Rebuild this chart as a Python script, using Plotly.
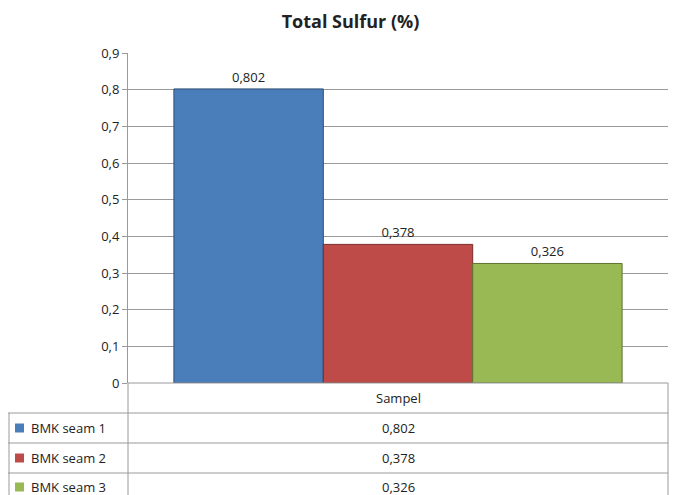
import plotly.graph_objects as go

category = ["Sampel"]
series_names = ["BMK seam 1", "BMK seam 2", "BMK seam 3"]
series_values = [0.802, 0.378, 0.326]
colors = ["#4a7ebb", "#be4b48", "#98b954"]
line_colors = ["#2c4d75", "#772c2a", "#5f7530"]
y_ticks = [0, 0.1, 0.2, 0.3, 0.4, 0.5, 0.6, 0.7, 0.8, 0.9]

FONT = "Open Sans"
fig = go.Figure()
for name, v, c, lc in zip(series_names, series_values, colors, line_colors):
    fig.add_trace(go.Bar(
        x=category, y=[v], name=name, marker=dict(color=c, line=dict(color=lc, width=1)),
        text=[f"{v:.3f}".replace(".", ",")], textposition="outside",
        textfont=dict(size=13, color="#222"), cliponaxis=False, showlegend=False))

fig.update_layout(
    width=685, height=495, margin=dict(l=120, r=25, t=45, b=120, autoexpand=False),
    paper_bgcolor="white", plot_bgcolor="white",
    barmode="group", bargap=0.17, bargroupgap=0,
    font=dict(family=FONT, size=13, color="#222"),
    title=dict(text="<b>Total Sulfur (%)</b>", x=0.5, xanchor="center", y=0.985,
               yanchor="top", font=dict(size=18, family=FONT)),
    xaxis=dict(showticklabels=False, showline=False, showgrid=False, automargin=False),
    yaxis=dict(range=[0, 0.9], tickvals=y_ticks, automargin=False,
               ticktext=[f"{t:.1f}".replace(".", ",") if t else "0" for t in y_ticks],
               showgrid=True, gridcolor="#9a9a9a", gridwidth=1, showline=True,
               linecolor="#9a9a9a", ticks="outside", ticklen=5, tickcolor="#9a9a9a",
               tickfont=dict(size=13), zeroline=False),
)

px_y = lambda py: (375 - py) / 330
px_x = lambda px: (px - 120) / 540
lc = "#9a9a9a"
shapes = []
for py in [375, 405, 435, 465, 493]:
    x0 = 120 if py == 375 else 0
    shapes.append(dict(type="line", xref="paper", yref="paper", x0=px_x(x0), x1=px_x(660),
                       y0=px_y(py), y1=px_y(py), line=dict(color=lc, width=1)))
shapes.append(dict(type="line", xref="paper", yref="paper", x0=0, x1=0, y0=px_y(375), y1=px_y(493), line=dict(color=lc, width=1)))
shapes.append(dict(type="line", xref="paper", yref="paper", x0=1, x1=1, y0=px_y(375), y1=px_y(493), line=dict(color=lc, width=1)))
shapes.append(dict(type="line", xref="paper", yref="paper", x0=px_x(1), x1=px_x(1), y0=px_y(405), y1=px_y(493), line=dict(color=lc, width=1)))
ann = [dict(text=category[0], xref="paper", yref="paper", x=0.5, y=px_y(390), yanchor="middle",
            showarrow=False, font=dict(size=13))]
for i, (name, v, c) in enumerate(zip(series_names, series_values, colors)):
    cy = 420 + 30 * i - (1 if i == 2 else 0)
    shapes.append(dict(type="rect", xref="paper", yref="paper", x0=px_x(7), x1=px_x(16),
                       y0=px_y(cy - 4.5), y1=px_y(cy + 4.5), fillcolor=c, line=dict(width=0)))
    ann.append(dict(text=name, xref="paper", yref="paper", x=px_x(21), y=px_y(cy), xanchor="left",
                    yanchor="middle", showarrow=False, font=dict(size=13)))
    ann.append(dict(text=f"{v:.3f}".replace(".", ","), xref="paper", yref="paper", x=0.5, y=px_y(cy),
                    yanchor="middle", showarrow=False, font=dict(size=13)))
fig.update_layout(shapes=shapes, annotations=ann)
fig.write_html("out.html")
